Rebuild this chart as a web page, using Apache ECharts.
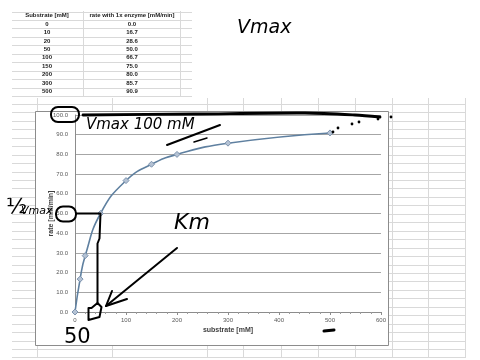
<!DOCTYPE html>
<html><head><meta charset="utf-8">
<script src="https://cdn.jsdelivr.net/npm/echarts@6/dist/echarts.min.js"></script>
<style>html,body{margin:0;padding:0;background:#fff}#c{width:480px;height:360px}</style>
</head><body><div id="c"></div>
<script>
// ---- data ----
const substrate = [0, 10, 20, 50, 100, 150, 200, 300, 500];
const rate = [0.0, 16.7, 28.6, 50.0, 66.7, 75.0, 80.0, 85.7, 90.9];
const tableHeaders = ['Substrate [mM]', 'rate with 1x enzyme [mM/min]'];
const xAxisName = 'substrate [mM]';
const yAxisName = 'rate [mM/min]';
const xMin = 0, xMax = 600, xStep = 100;
const yMin = 0, yMax = 100, yStep = 10;
const vmaxValue = 100;
const halfVmax = 50;
const kmValue = 50;
const notes = { top: 'Vmax', vmax: 'Vmax 100 mM', half: 'Vmax', km: 'Km', kmVal: '50' };

const chart = echarts.init(document.getElementById('c'), null, {renderer: 'canvas'});
const labelFont = {fontFamily: 'Liberation Sans, Arial, sans-serif', fontSize: 6, color: '#595959'};

chart.setOption({
  animation: false,
  backgroundColor: '#ffffff',
  grid: {left: 75, right: 99, top: 115, bottom: 48},
  xAxis: {
    type: 'value', min: xMin, max: xMax, interval: xStep,
    name: xAxisName, nameLocation: 'middle', nameGap: 15, nameMoveOverlap: false,
    nameTextStyle: {fontFamily: 'Liberation Sans, Arial, sans-serif', fontSize: 7, fontWeight: 'bold', color: '#404040'},
    axisLine: {lineStyle: {color: '#8c8c8c', width: 1}},
    axisTick: {show: true, length: 3, lineStyle: {color: '#8c8c8c'}},
    minorTick: {show: true, splitNumber: 5, length: 2, lineStyle: {color: '#9c9c9c'}},
    splitLine: {show: false},
    axisLabel: Object.assign({margin: 5}, labelFont)
  },
  yAxis: {
    type: 'value', min: yMin, max: yMax, interval: yStep,
    name: yAxisName, nameLocation: 'middle', nameGap: 20, nameRotate: 90, nameMoveOverlap: false,
    nameTextStyle: {fontFamily: 'Liberation Sans, Arial, sans-serif', fontSize: 7, fontWeight: 'bold', color: '#404040'},
    axisLine: {show: true, lineStyle: {color: '#8c8c8c', width: 1}},
    axisTick: {show: false},
    splitLine: {show: true, lineStyle: {color: '#a6a6a6', width: 1}},
    axisLabel: Object.assign({margin: 7, formatter: v => v.toFixed(1)}, labelFont)
  },
  series: [{
    type: 'line', smooth: 0.5,
    data: substrate.map((s, i) => [s, rate[i]]),
    symbol: 'diamond', symbolSize: 6,
    lineStyle: {color: '#5f80a0', width: 1.6},
    itemStyle: {color: '#b4c2d4', borderColor: '#7d93ae', borderWidth: 1},
    z: 3
  }]
});

const P = (x, y) => chart.convertToPixel({gridIndex: 0}, [x, y]);
const g = [];
const thin = '#d9d9d9';
function hline(x1, x2, y, c, w) { g.push({type: 'line', shape: {x1, y1: y, x2, y2: y}, style: {stroke: c || thin, lineWidth: w || 1}, silent: true, z: 0}); }
function vline(x, y1, y2, c, w) { g.push({type: 'line', shape: {x1: x, y1, x2: x, y2}, style: {stroke: c || thin, lineWidth: w || 1}, silent: true, z: 0}); }
function txt(x, y, text, opts) { g.push({type: 'text', x, y, style: Object.assign({text, fill: '#000'}, opts), silent: true, z: 50}); }
function poly(points, w, smooth) { g.push({type: 'polyline', shape: {points, smooth: smooth || 0}, style: {stroke: '#000', lineWidth: w || 2, fill: null, lineCap: 'round', lineJoin: 'round'}, silent: true, z: 50}); }

// ---- spreadsheet background ----
const rowH = 8.45, row0 = 11.5;
for (let k = 0; k <= 10; k++) hline(12, 192, Math.round(row0 + k * rowH) + 0.5);
vline(83.5, 11, 97);
vline(180.5, 11, 97);
for (let y = 104; y < 358; y += rowH) {
  const yy = Math.round(y) + 0.5;
  if (yy < 111) hline(12, 465, yy);
  else if (yy > 346) hline(12, 465, yy);
  else { hline(12, 35, yy); hline(389, 465, yy); }
}
[37, 112, 207, 243, 281, 318, 355].forEach(x => { vline(x + 0.5, 98, 111); vline(x + 0.5, 346, 358); });
[392, 428, 465].forEach(x => vline(x + 0.5, 98, 358));
g.push({type: 'rect', shape: {x: 35.5, y: 111.5, width: 353, height: 234}, style: {stroke: '#8c8c8c', lineWidth: 1, fill: null}, silent: true, z: 1});

// ---- table built from data ----
const c1 = 47, c2 = 132;
const tf = {fontFamily: 'Liberation Sans, Arial, sans-serif', fontSize: 6, align: 'center', verticalAlign: 'middle', fill: '#222'};
txt(c1, 15.5, tableHeaders[0], Object.assign({}, tf, {fontWeight: 'bold'}));
txt(c2, 15.5, tableHeaders[1], Object.assign({}, tf, {fontWeight: 'bold'}));
substrate.forEach((s, i) => {
  const y = 15.5 + (i + 1) * rowH;
  txt(c1, y, String(s), Object.assign({}, tf, {fontWeight: 'bold'}));
  txt(c2, y, rate[i].toFixed(1), Object.assign({}, tf, {fontWeight: 'bold'}));
});

// ---- handwritten annotations ----
const hw = {fontFamily: 'DejaVu Sans, sans-serif', fill: '#000'};
txt(237, 19, notes.top, Object.assign({}, hw, {fontSize: 19, fontStyle: 'italic'}));

const p100 = P(0, vmaxValue), p600 = P(xMax, vmaxValue);
g.push({type: 'rect', shape: {x: p100[0] - 24, y: p100[1] - 8, width: 28, height: 15, r: 7}, style: {stroke: '#000', lineWidth: 2, fill: null}, silent: true, z: 50});
poly([[p100[0] + 8, p100[1]], [p100[0] + 120, p100[1] - 1], [p100[0] + 230, p100[1] - 2], [p100[0] + 280, p100[1]], [p600[0] - 1, p100[1] + 2]], 2.8, 0.3);
[[333, 132], [338, 128], [352, 124], [359, 122], [378, 119], [391, 117]].forEach(d => g.push({type: 'circle', shape: {cx: d[0], cy: d[1], r: 1.4}, style: {fill: '#000'}, silent: true, z: 50}));
txt(86, 118, notes.vmax, Object.assign({}, hw, {fontSize: 15, fontStyle: 'italic'}));
poly([[167, 145], [220, 125]], 2);
poly([[194, 142], [207, 138]], 1.5);

const p50 = P(0, halfVmax), pk = P(kmValue, halfVmax), pk0 = P(kmValue, 0);
txt(6, 196, '½', Object.assign({}, hw, {fontSize: 22}));
txt(21, 206, notes.half, Object.assign({}, hw, {fontSize: 11, fontStyle: 'italic'}));
g.push({type: 'rect', shape: {x: p50[0] - 19, y: p50[1] - 7, width: 20, height: 15, r: 7}, style: {stroke: '#000', lineWidth: 2, fill: null}, silent: true, z: 50});
poly([[p50[0] + 1, p50[1]], [pk[0], p50[1]], [pk[0] - 1, p50[1] + 25], [pk[0] - 3, p50[1] + 30], [pk[0] - 3, pk0[1] - 8]], 2);
poly([[pk0[0] - 9, pk0[1] - 4], [pk0[0] - 3, pk0[1] - 9], [pk0[0] + 1, pk0[1] - 5], [pk0[0] - 1, pk0[1] + 5], [pk0[0] - 12, pk0[1] + 8], [pk0[0] - 12, pk0[1] - 4], [pk0[0] - 9, pk0[1] - 4]], 2);
poly([[177, 248], [106, 306]], 2);
poly([[112, 291], [106, 306], [127, 299]], 2);
txt(174, 212, notes.km, Object.assign({}, hw, {fontSize: 22, fontStyle: 'italic'}));
txt(64, 327, notes.kmVal, Object.assign({}, hw, {fontSize: 21}));
poly([[324, 331], [334, 330]], 3);

chart.setOption({graphic: g});
</script></body></html>
